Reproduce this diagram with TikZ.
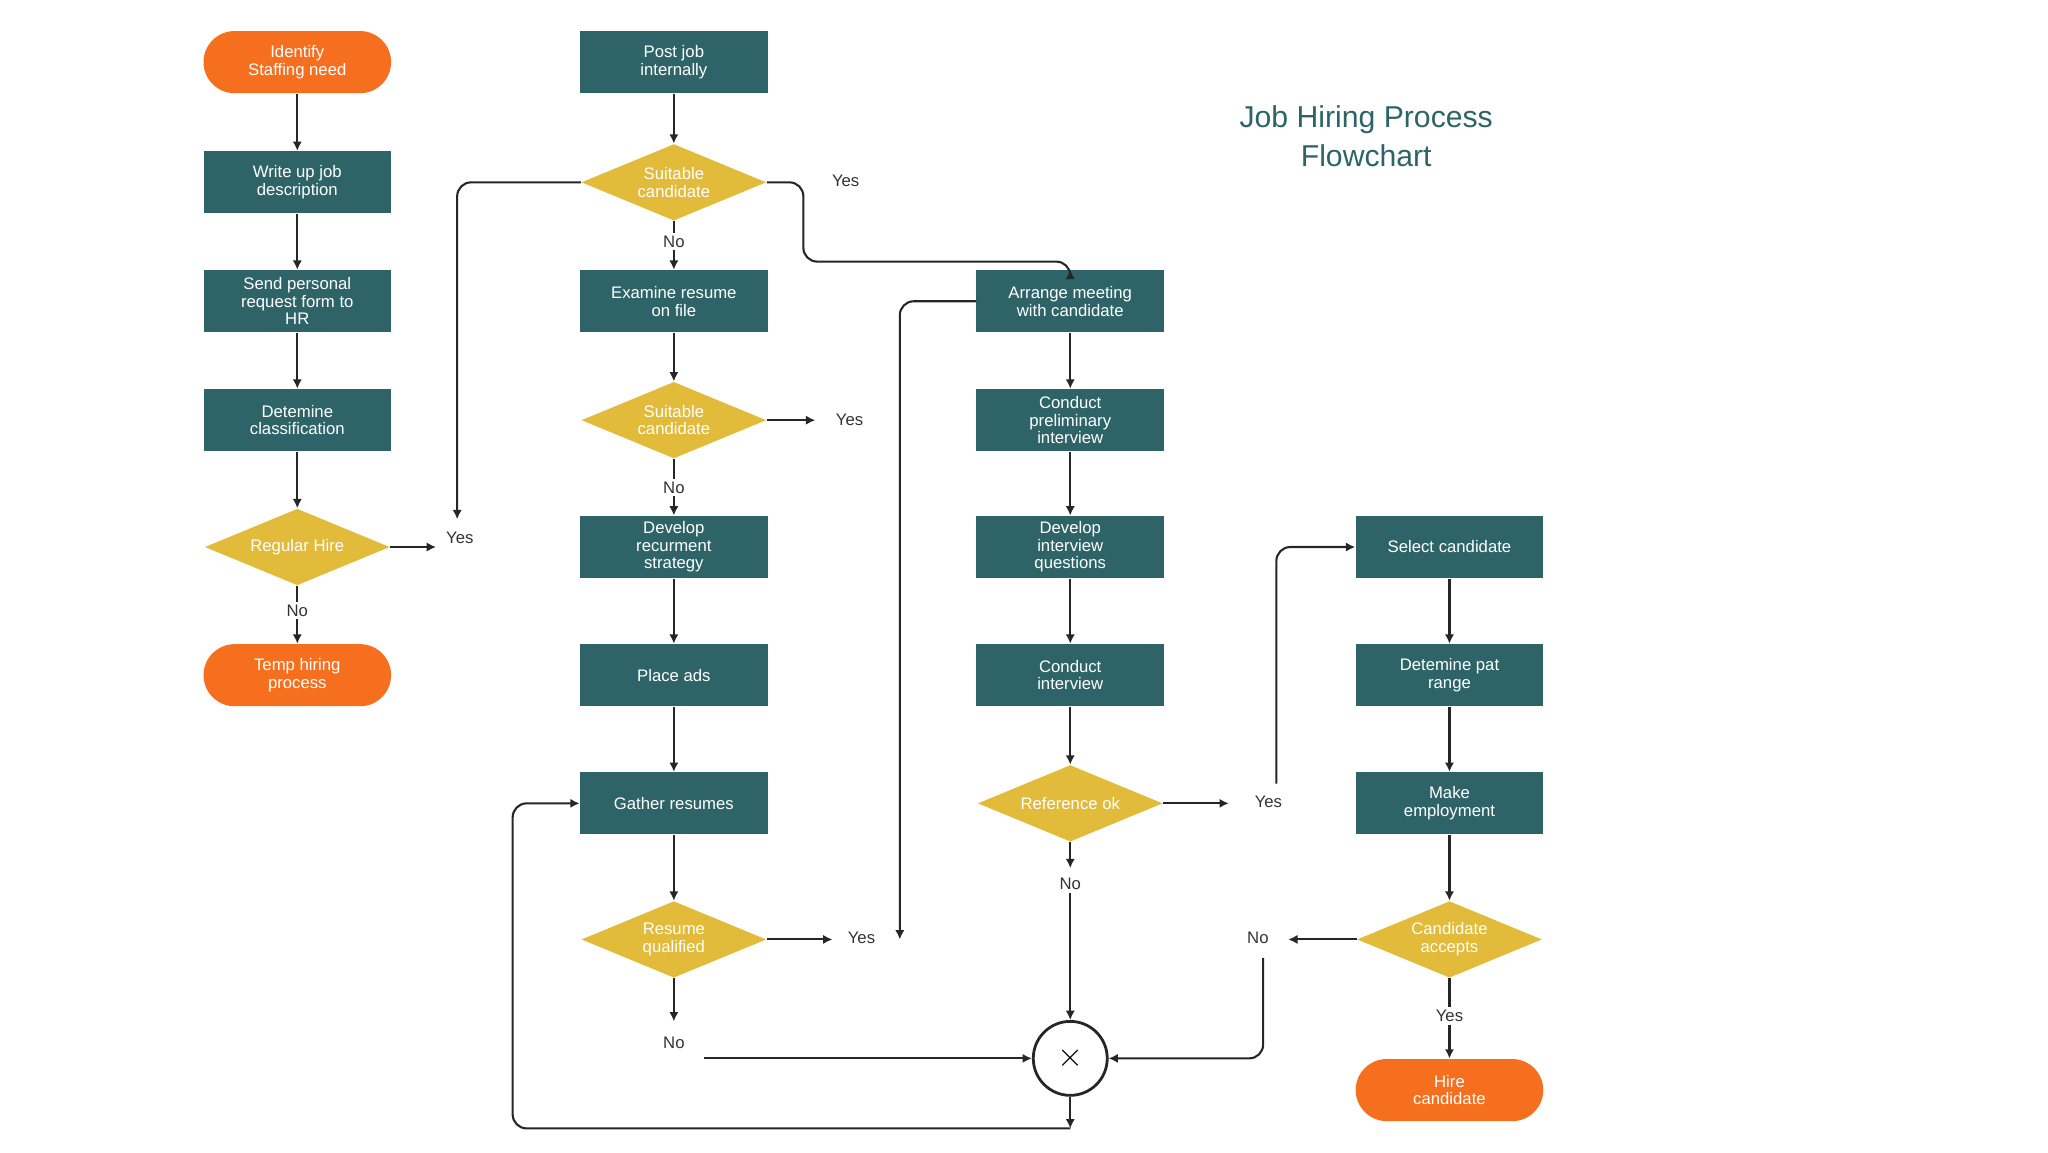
\documentclass[tikz,border=0pt]{standalone}
\usepackage{fontspec}
\setmainfont{Liberation Sans}
\usetikzlibrary{shapes.geometric,arrows.meta,calc}
\definecolor{boxteal}{HTML}{2E6468}
\definecolor{termorange}{HTML}{F56F1F}
\definecolor{decgold}{HTML}{E3BB3A}
\begin{document}
\begin{tikzpicture}[x=0.02cm,y=-0.02cm,
    every node/.style={font=\fontsize{7.2}{7.6}\selectfont},
    box/.style={rectangle, fill=boxteal, text=white, minimum width=2.84cm, minimum height=0.94cm, align=center, inner sep=1pt},
    term/.style={rectangle, rounded corners=0.47cm, fill=termorange, text=white, minimum width=2.84cm, minimum height=0.94cm, align=center, inner sep=1pt},
    dec/.style={diamond, fill=decgold, text=white, minimum width=2.8cm, minimum height=1.16cm, aspect=2.4, align=center, inner sep=0pt},
    lbl/.style={fill=white, inner sep=1pt, text=black!80},
    arr/.style={-{Latex[length=4pt,width=4pt]}, line width=0.9pt, black!85, rounded corners=6pt},
    ln/.style={line width=0.9pt, black!85, rounded corners=6pt}
]
\useasboundingbox (0,0) rectangle (1550,872);

% Title
\node[text=boxteal, font=\fontsize{13}{17}\selectfont, align=center] (title) at (1034,103) {Job Hiring Process\\Flowchart};

% Column 1
\node[term] (identify) at (225,47) {Identify\\Staffing need};
\node[box] (write) at (225,138) {Write up job\\description};
\node[box] (send) at (225,228) {Send personal\\request form to\\HR};
\node[box] (classify) at (225,318) {Detemine\\classification};
\node[dec] (regular) at (225,414) {Regular Hire};
\node[term] (temp) at (225,511) {Temp hiring\\process};

% Column 2
\node[box] (post) at (510,47) {Post job\\internally};
\node[dec] (suit1) at (510,138) {Suitable\\candidate};
\node[box] (examine) at (510,228) {Examine resume\\on file};
\node[dec] (suit2) at (510,318) {Suitable\\candidate};
\node[box] (strategy) at (510,414) {Develop\\recurment\\strategy};
\node[box] (ads) at (510,511) {Place ads};
\node[box] (gather) at (510,608) {Gather resumes};
\node[dec] (qualified) at (510,711) {Resume\\qualified};

% Column 3
\node[box] (arrange) at (810,228) {Arrange meeting\\with candidate};
\node[box] (prelim) at (810,318) {Conduct\\preliminary\\interview};
\node[box] (questions) at (810,414) {Develop\\interview\\questions};
\node[box] (interview) at (810,511) {Conduct\\interview};
\node[dec] (reference) at (810,608) {Reference ok};
\node[circle, draw=black!85, line width=1.2pt, minimum size=1.12cm, inner sep=0pt, font=\fontsize{14}{14}\selectfont] (merge) at (810,801) {$\times$};

% Column 4
\node[box] (select) at (1097,414) {Select candidate};
\node[box] (payrange) at (1097,511) {Detemine pat\\range};
\node[box] (employ) at (1097,608) {Make\\employment};
\node[dec] (accepts) at (1097,711) {Candidate\\accepts};
\node[term] (hire) at (1097,825) {Hire\\candidate};

% Labels
\node[lbl] (yesA) at (348,407) {Yes};
\node[lbl] (noA) at (225,462) {No};
\node[lbl] (yesB) at (640,137) {Yes};
\node[lbl] (noB) at (510,183) {No};
\node[lbl] (yesC) at (643,318) {Yes};
\node[lbl] (noC) at (510,369) {No};
\node[lbl] (yesD) at (652,710) {Yes};
\node[lbl] (noD) at (510,789) {No};
\node[lbl] (yesE) at (960,607) {Yes};
\node[lbl] (noE) at (810,669) {No};
\node[lbl] (noF) at (952,710) {No};
\node[lbl] (yesF) at (1097,769) {Yes};

% Column 1 flow
\draw[arr] (identify) -- (write);
\draw[arr] (write) -- (send);
\draw[arr] (send) -- (classify);
\draw[arr] (classify) -- (regular);
\draw[arr] (regular.east) -- (330,414);
\draw[ln] (regular.south) -- (noA.north);
\draw[arr] (noA.south) -- (temp);

% Column 2 flow
\draw[arr] (post) -- (suit1);
\draw[arr] (suit1.west) -| (346,393);
\draw[arr] (suit1.east) -- (608,138) |- (810,198) -- (arrange.north);
\draw[ln] (suit1.south) -- (noB.north);
\draw[arr] (noB.south) -- (examine);
\draw[arr] (examine) -- (suit2);
\draw[arr] (suit2.east) -- (617,318);
\draw[ln] (suit2.south) -- (noC.north);
\draw[arr] (noC.south) -- (strategy);
\draw[arr] (strategy) -- (ads);
\draw[arr] (ads) -- (gather);
\draw[arr] (gather) -- (qualified);
\draw[arr] (qualified.east) -- (630,711);
\draw[arr] (qualified.south) -- (510,773);
\draw[arr] (533,801) -- (merge.west);

% Column 3 flow
\draw[arr] (arrange.west) -| (681,711);
\draw[arr] (arrange) -- (prelim);
\draw[arr] (prelim) -- (questions);
\draw[arr] (questions) -- (interview);
\draw[arr] (interview) -- (reference);
\draw[arr] (reference.east) -- (930,608);
\draw[arr] (reference.south) -- (810,657);
\draw[arr] (noE.south) -- (merge.north);
\draw[arr] (966,593) |- (select.west);
\draw[arr] (merge.south) -- (810,854);
\draw[arr] (810,854) -| (388,608) -- (gather.west);

% Column 4 flow
\draw[arr] (select) -- (payrange);
\draw[arr] (payrange) -- (employ);
\draw[arr] (employ) -- (accepts);
\draw[arr] (accepts.west) -- (975,711);
\draw[arr] (956,725) |- (merge.east);
\draw[ln] (accepts.south) -- (yesF.north);
\draw[arr] (yesF.south) -- (hire);
\end{tikzpicture}
\end{document}
